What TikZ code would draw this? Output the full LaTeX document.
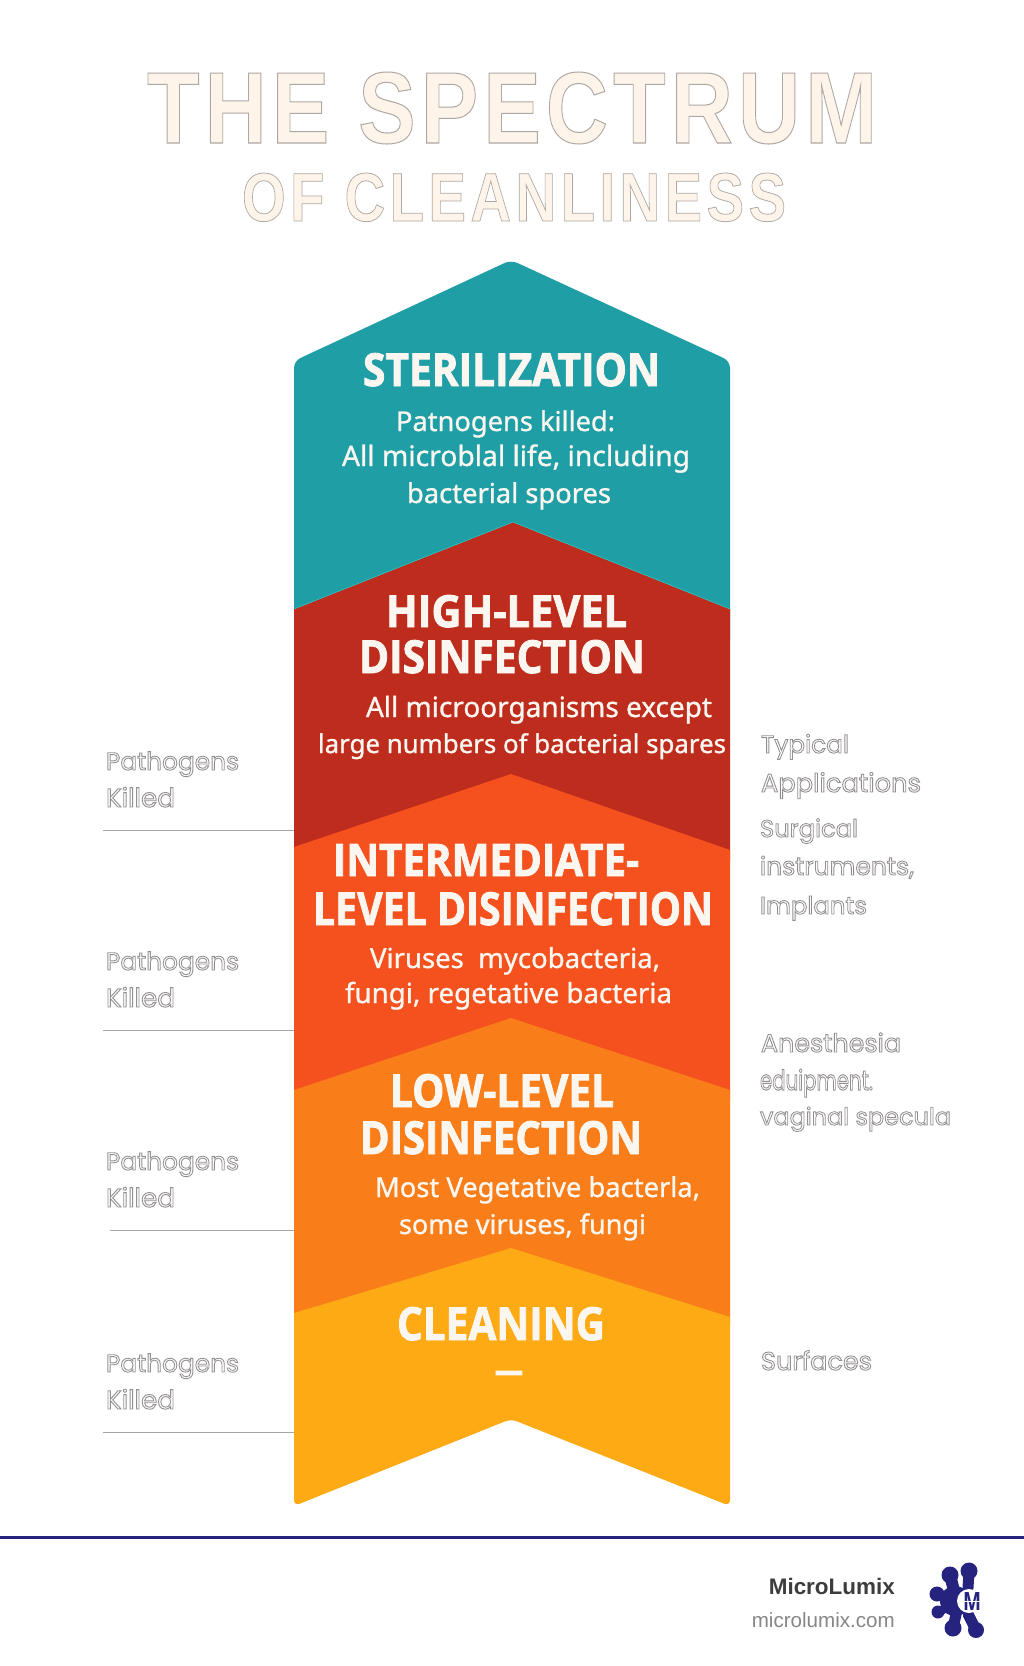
\documentclass[tikz,border=0pt]{standalone}
\usepackage{fontspec}
\setmainfont{Liberation Sans}
\newfontfamily\headfont{Open Sans}
\newfontfamily\titlefont{Liberation Sans}[BoldFont={Liberation Sans Bold},LetterSpace=6]
\newfontfamily\subtitlefont{Liberation Sans}[BoldFont={Liberation Sans Bold},LetterSpace=8]
\newfontfamily\bodyfont{Noto Sans}
\newfontfamily\sidefont{Poppins}
\newfontfamily\footfont{Liberation Sans}
\definecolor{bandteal}{HTML}{1F9EA6}
\definecolor{bandred}{HTML}{BE2C1D}
\definecolor{bandorange}{HTML}{F4511E}
\definecolor{bandamber}{HTML}{F97E1A}
\definecolor{bandyellow}{HTML}{FDAA14}
\definecolor{rulegrey}{HTML}{A8A4A4}
\definecolor{navy}{HTML}{26237F}
\definecolor{halo}{HTML}{22D0D0}
% outlined text: stroke rgb, fill rgb, line width, text
\newcommand{\outl}[4]{\special{pdf:code q 2 Tr #3 w #1 RG #2 rg}#4\special{pdf:code Q}}
\newcommand{\sidetxt}[1]{\outl{0.58 0.56 0.56}{1 1 1}{0.35}{#1}}
\newcommand{\bodytxt}[1]{\outl{0.984 0.969 0.941}{0.984 0.969 0.941}{0.1}{\bodyfont #1}}
\newcommand{\headtxt}[1]{\outl{0.984 0.969 0.941}{0.984 0.969 0.941}{0.2}{\headfont\bfseries #1}}
\newcommand{\fitw}[2]{\resizebox{#1pt}{!}{#2}}
\newcommand{\fitwh}[3]{\resizebox{#1pt}{#2pt}{#3}}
\tikzset{
  x=1pt,y=-1pt,
  line/.style={anchor=base west,inner sep=0pt,outer sep=0pt},
  sideline/.style={anchor=base west,inner sep=0pt,outer sep=0pt},
  leader/.style={draw=rulegrey,line width=0.9pt},
}
\begin{document}
\begin{tikzpicture}
\useasboundingbox (0,0) rectangle (1024,1666);
\fill[white] (0,0) rectangle (1024,1666);
% bands
\fill[bandteal] (294,370) [rounded corners=7pt] -- (294,361) -- (511,260) -- (730,361) [sharp corners] -- (730,370) -- (730,640) -- (294,640) -- cycle;
\fill[bandred] (294,609) -- (513,522) -- (730,609) -- (730,860) -- (294,860) -- cycle;
\draw[halo,line width=0.6pt] (294,609) -- (513,522) -- (730,609);
\fill[bandorange] (294,847) -- (511,774) -- (730,850) -- (730,1100) -- (294,1100) -- cycle;
\fill[bandamber] (294,1090) -- (511,1018) -- (730,1090) -- (730,1325) -- (294,1325) -- cycle;
\fill[bandyellow] (294,1313) -- (511,1248) -- (730,1317) [rounded corners=6pt] -- (730,1506) -- (511,1419) [rounded corners=6pt] -- (294,1506) [sharp corners] -- cycle;
% title
\node[sideline] (t1) at (147,143) {\fitwh{730}{71}{\outl{0.68 0.66 0.64}{0.995 0.955 0.915}{0.6}{\fontsize{60}{60}\selectfont\titlefont\bfseries THE SPECTRUM}}};
\node[sideline] (t2) at (242,221) {\fitwh{544}{48}{\outl{0.68 0.66 0.64}{0.995 0.955 0.915}{0.45}{\fontsize{40}{40}\selectfont\subtitlefont\bfseries OF CLEANLINESS}}};
% sterilization
\node[line] (a1) at (363,386) {\fitwh{297}{33}{\headtxt{STERILIZATION}}};
\node[line] (a2) at (396,431) {\fitw{219}{\bodytxt{Patnogens killed:}}};
\node[line] (a3) at (342,466) {\fitw{348}{\bodytxt{All microblal life, including}}};
\node[line] (a4) at (407,503) {\fitw{204}{\bodytxt{bacterial spores}}};
% high-level
\node[line] (b1) at (386,627) {\fitwh{241}{32}{\headtxt{HIGH-LEVEL}}};
\node[line] (b2) at (359,673) {\fitwh{286}{33}{\headtxt{DISINFECTION}}};
\node[line] (b3) at (366,717) {\fitw{346}{\bodytxt{All microorganisms except}}};
\node[line] (b4) at (318,753) {\fitw{408}{\bodytxt{large numbers of bacterial spares}}};
% intermediate
\node[line] (c1) at (333,876) {\fitwh{306}{32}{\headtxt{INTERMEDIATE-}}};
\node[line] (c2) at (313,925) {\fitwh{400}{33}{\headtxt{LEVEL DISINFECTION}}};
\node[line] (c3) at (370,968) {\fitw{290}{\bodytxt{Viruses\ \ mycobacteria,}}};
\node[line] (c4) at (345,1003) {\fitw{327}{\bodytxt{fungi, regetative bacteria}}};
% low
\node[line] (d1) at (390,1107) {\fitwh{224}{33}{\headtxt{LOW-LEVEL}}};
\node[line] (d2) at (360,1154) {\fitwh{282}{33}{\headtxt{DISINFECTION}}};
\node[line] (d3) at (375,1197) {\fitw{325}{\bodytxt{Most Vegetative bacterla,}}};
\node[line] (d4) at (399,1234) {\fitw{247}{\bodytxt{some viruses, fungi}}};
% cleaning
\node[line] (e1) at (397,1340) {\fitwh{208}{33}{\headtxt{CLEANING}}};
\node[line] (e2) at (496,1380) {\fitw{26}{\outl{0.984 0.969 0.941}{0.984 0.969 0.941}{1.0}{\bodyfont —}}};
% left labels
\foreach \n/\yy/\xs in {1/772/103,2/972/103,3/1172/110,4/1374/103}{
  \node[sideline] (pa\n) at (106,\yy-2) {\fitw{133}{\sidefont\sidetxt{Pathogens}}};
  \node[sideline] (ki\n) at (106,\yy+35) {\fitw{69}{\sidefont\sidetxt{Killed}}};
  \coordinate (ls\n) at (\xs,\yy+58);
  \coordinate (le\n) at (294,\yy+58);
  \draw[leader] (ls\n) -- (le\n);
}
% right labels
\node[sideline] (r1) at (761,753) {\fitw{88}{\sidefont\sidetxt{Typical}}};
\node[sideline] (r2) at (761,792) {\fitw{160}{\sidefont\sidetxt{Applications}}};
\node[sideline] (r3) at (760,837) {\fitw{98}{\sidefont\sidetxt{Surgical}}};
\node[sideline] (r4) at (760,875) {\fitw{154}{\sidefont\sidetxt{instruments,}}};
\node[sideline] (r5) at (760,914) {\fitw{107}{\sidefont\sidetxt{Implants}}};
\node[sideline] (r6) at (761,1052) {\fitw{140}{\sidefont\sidetxt{Anesthesia}}};
\node[sideline] (r7) at (760,1090) {\fitwh{113}{21}{\sidefont\sidetxt{eduipment.}}};
\node[sideline] (r8) at (760,1125) {\fitw{191}{\sidefont\sidetxt{vaginal specula}}};
\node[sideline] (r9) at (761,1370) {\fitw{111}{\sidefont\sidetxt{Surfaces}}};
% footer
\fill[navy] (0,1535.5) rectangle (1024,1538.5);
\node[anchor=base east,inner sep=0pt,text=black!76] (f1) at (895,1594) {\fitw{126}{\footfont\bfseries MicroLumix}};
\node[anchor=base east,inner sep=0pt,text=black!47] (f2) at (895,1627) {\fitw{143}{\footfont microlumix.com}};
% logo
\fill[navy] (955,1601) circle (15);
\fill[navy] (969,1571) circle (8.5);
\fill[navy] (950,1575) circle (8.5);
\fill[navy] (937,1594) circle (7.5);
\fill[navy] (938,1612) circle (6.5);
\fill[navy] (953,1628) circle (8.5);
\fill[navy] (976,1630) circle (8);
\draw[navy,line width=11pt,line cap=round] (969,1571) -- (968,1588);
\draw[navy,line width=12pt,line cap=round] (950,1575) -- (955,1595);
\draw[navy,line width=10pt,line cap=round] (937,1594) -- (950,1598);
\draw[navy,line width=8pt,line cap=round] (938,1612) -- (950,1607);
\draw[navy,line width=11pt,line cap=round] (953,1628) -- (957,1610);
\draw[navy,line width=11pt,line cap=round] (976,1630) -- (968,1614);
\fill[white] (969,1601) circle (12);
\fill[white] (969,1590.5) rectangle (990,1611.5);
\node[inner sep=0pt,text=navy] (mm) at (972,1601) {\fitwh{18}{18}{\headfont\bfseries M}};
\fill[white] (962,1600.6) rectangle (982,1601.6);
\end{tikzpicture}
\end{document}
